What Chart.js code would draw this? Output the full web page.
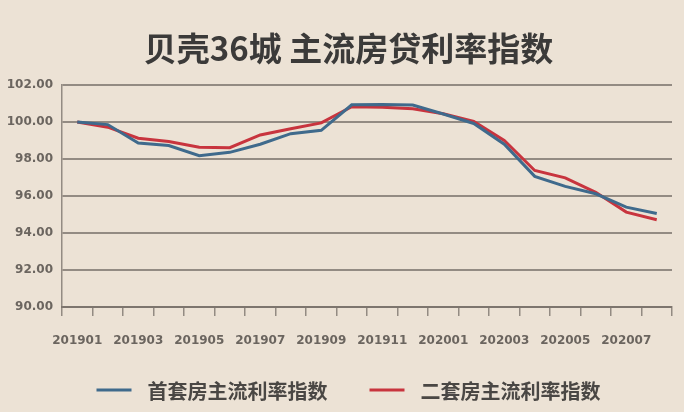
<!DOCTYPE html>
<html>
<head>
  <title>贝壳36城 主流房贷利率指数</title>
  <script src="https://cdn.jsdelivr.net/npm/chart.js"></script>
  <style>
    html, body {
      margin: 0;
      padding: 0;
      background-color: #ece2d5;
    }
    #wrap {
      width: 684px;
      height: 412px;
    }
  </style>
</head>
<body>
  <div id="wrap">
    <canvas id="rateChart"></canvas>
  </div>

  <script>
    const chartTitle = '贝壳36城 主流房贷利率指数';
    const months = [
      '201901', '201902', '201903', '201904', '201905', '201906', '201907', '201908', '201909', '201910',
      '201911', '201912', '202001', '202002', '202003', '202004', '202005', '202006', '202007', '202008'
    ];
    const firstHome = [
      100.00, 99.86, 98.86, 98.73, 98.18, 98.36, 98.80, 99.37, 99.55, 100.93,
      100.95, 100.92, 100.43, 99.92, 98.80, 97.06, 96.52, 96.12, 95.40, 95.05
    ];
    const secondHome = [
      100.00, 99.72, 99.12, 98.95, 98.63, 98.61, 99.30, 99.64, 99.95, 100.83,
      100.80, 100.72, 100.45, 100.03, 99.00, 97.38, 96.98, 96.20, 95.13, 94.72
    ];
    const yMin = 90;
    const yMax = 102;
    const yStep = 2;

    const gridColor = 'rgba(118, 110, 103, 0.75)';
    const tickColor = '#6b655f';
    const tickFont = { family: 'DejaVu Sans', size: 12, weight: 'bold' };

    // paper background
    const background = {
      id: 'background',
      beforeDraw(chart) {
        const ctx = chart.ctx;
        ctx.save();
        ctx.fillStyle = '#ece2d5';
        ctx.fillRect(0, 0, chart.width, chart.height);
        ctx.restore();
      }
    };

    // title and legend are centred a little right of the canvas middle
    const textCenter = 348.5;

    const topTitle = {
      id: 'topTitle',
      afterDraw(chart) {
        const ctx = chart.ctx;
        ctx.save();
        ctx.font = 'bold 33px "Noto Sans CJK SC"';
        ctx.fillStyle = '#3b3a39';
        ctx.textAlign = 'center';
        ctx.textBaseline = 'middle';
        ctx.fillText(chartTitle, textCenter, 48);
        ctx.restore();
      }
    };

    // legend under the chart: line sample, gap, label
    const bottomLegend = {
      id: 'bottomLegend',
      afterDraw(chart) {
        const ctx = chart.ctx;
        const lineLen = 35, gap = 16, itemGap = 42;
        ctx.save();
        ctx.font = 'bold 20px "Noto Sans CJK SC"';
        ctx.textBaseline = 'middle';
        const sets = chart.data.datasets;
        let total = 0;
        sets.forEach((ds, i) => {
          total += lineLen + gap + ctx.measureText(ds.label).width;
          if (i < sets.length - 1) total += itemGap;
        });
        const y = 390;
        let x = textCenter - total / 2;
        sets.forEach(ds => {
          ctx.strokeStyle = ds.borderColor;
          ctx.lineWidth = 3;
          ctx.beginPath();
          ctx.moveTo(x, y);
          ctx.lineTo(x + lineLen, y);
          ctx.stroke();
          x += lineLen + gap;
          ctx.fillStyle = '#4a4744';
          ctx.fillText(ds.label, x, y + 1);
          x += ctx.measureText(ds.label).width + itemGap;
        });
        ctx.restore();
      }
    };

    const ctx = document.getElementById('rateChart').getContext('2d');

    new Chart(ctx, {
      type: 'line',
      data: {
        labels: months,
        datasets: [{
          label: '首套房主流利率指数',
          data: firstHome,
          borderColor: '#3f6a8c',
          borderWidth: 3,
          pointRadius: 0,
          tension: 0,
          fill: false
        }, {
          label: '二套房主流利率指数',
          data: secondHome,
          borderColor: '#c8343e',
          borderWidth: 3,
          pointRadius: 0,
          tension: 0,
          fill: false
        }]
      },
      options: {
        responsive: true,
        maintainAspectRatio: false,
        animation: false,
        layout: {
          padding: { top: 85, left: 0, right: 12, bottom: 60 }
        },
        plugins: {
          legend: { display: false },
          tooltip: { enabled: false },
          title: { display: false }
        },
        scales: {
          x: {
            offset: true,
            afterFit(scale) { scale.height = 45; },
            grid: {
              offset: true,
              drawOnChartArea: false,
              drawTicks: true,
              tickLength: 9,
              color: gridColor,
              lineWidth: 1.5
            },
            border: { display: true, color: gridColor, width: 2 },
            ticks: {
              autoSkip: false,
              maxRotation: 0,
              padding: 18,
              color: tickColor,
              font: tickFont,
              callback: function (value, index) {
                return index % 2 === 0 ? this.getLabelForValue(value) : '';
              }
            }
          },
          y: {
            min: yMin,
            max: yMax,
            afterFit(scale) { scale.width = 62; },
            grid: {
              drawTicks: false,
              color: gridColor,
              lineWidth: 2
            },
            border: { display: true, color: gridColor, width: 1.5 },
            ticks: {
              stepSize: yStep,
              padding: 9,
              color: tickColor,
              font: tickFont,
              callback: v => v.toFixed(2)
            }
          }
        }
      },
      plugins: [background, topTitle, bottomLegend]
    });
  </script>
</body>
</html>
